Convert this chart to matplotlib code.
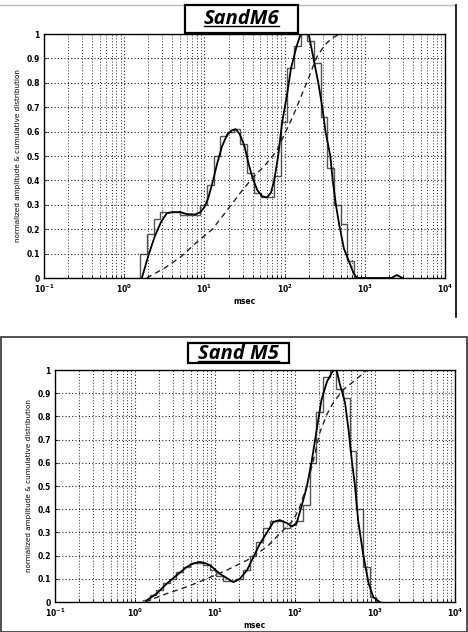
import numpy as np
import matplotlib
matplotlib.use("Agg")
import matplotlib.pyplot as plt
from matplotlib.patches import Rectangle
from matplotlib.lines import Line2D
from matplotlib.ticker import LogLocator, NullFormatter

# ---- SandM6 (upper panel) ----
# smooth amplitude curve, x given as log10(msec)
m6_curve_log = [0.22, 0.30, 0.38, 0.46, 0.53, 0.60, 0.70, 0.78, 0.88, 0.95, 1.00, 1.05,
                1.10, 1.16, 1.22, 1.28, 1.34, 1.39, 1.44, 1.50, 1.55, 1.60, 1.66, 1.72,
                1.78, 1.83, 1.87, 1.92, 1.97, 2.03, 2.08, 2.15, 2.20, 2.30, 2.36, 2.42,
                2.47, 2.51, 2.57, 2.60, 2.64, 2.68, 2.74, 2.80, 2.86, 2.90,
                3.33, 3.40, 3.47]
m6_curve_amp = [0.0, 0.09, 0.17, 0.23, 0.265, 0.27, 0.27, 0.262, 0.26, 0.27, 0.29, 0.33,
                0.39, 0.47, 0.54, 0.585, 0.605, 0.61, 0.59, 0.54, 0.47, 0.41, 0.36, 0.335,
                0.33, 0.35, 0.40, 0.50, 0.64, 0.75, 0.86, 0.95, 1.0, 1.0, 0.90, 0.80,
                0.70, 0.60, 0.50, 0.40, 0.30, 0.22, 0.12, 0.07, 0.02, 0.0,
                0.0, 0.012, 0.0]
# histogram, 12 bins per decade starting at log10 = 0.2
m6_hist_start = 0.2
m6_hist_amp = [0.10, 0.18, 0.24, 0.27, 0.27, 0.27, 0.26, 0.26, 0.26, 0.30, 0.38, 0.50,
               0.58, 0.60, 0.61, 0.55, 0.43, 0.35, 0.33, 0.33, 0.42, 0.64, 0.86, 0.95,
               1.00, 0.97, 0.88, 0.66, 0.45, 0.30, 0.22, 0.07, 0.0]
# cumulative distribution (dashed)
m6_cum_log = [0.28, 0.5, 0.7, 0.9, 1.1, 1.3, 1.45, 1.6, 1.75, 1.9, 2.0, 2.1, 2.2,
              2.3, 2.4, 2.5, 2.6, 2.69]
m6_cum_val = [0.0, 0.04, 0.085, 0.145, 0.2, 0.285, 0.35, 0.41, 0.46, 0.52, 0.59,
              0.66, 0.74, 0.82, 0.905, 0.955, 0.985, 1.0]

# ---- Sand M5 (lower panel) ----
m5_curve_log = [0.146, 0.27, 0.396, 0.52, 0.646, 0.73, 0.81, 0.87, 0.94, 1.06, 1.19,
                1.23, 1.31, 1.40, 1.48, 1.56, 1.65, 1.73, 1.81, 1.90, 1.96, 2.02, 2.08,
                2.15, 2.21, 2.27, 2.33, 2.40, 2.48, 2.52, 2.56, 2.625, 2.67, 2.71, 2.75,
                2.79, 2.85, 2.92, 2.98, 3.06]
m5_curve_amp = [0.007, 0.036, 0.079, 0.115, 0.151, 0.166, 0.173, 0.168, 0.158, 0.122,
                0.094, 0.086, 0.10, 0.137, 0.194, 0.25, 0.30, 0.345, 0.353, 0.34, 0.325,
                0.34, 0.41, 0.50, 0.61, 0.74, 0.87, 0.95, 1.0, 1.0, 0.94, 0.86, 0.74,
                0.61, 0.50, 0.35, 0.21, 0.08, 0.02, 0.0]
m5_hist_start = 0.1
m5_hist_amp = [0.01, 0.03, 0.05, 0.08, 0.10, 0.13, 0.15, 0.17, 0.17, 0.16, 0.14, 0.11,
               0.09, 0.09, 0.10, 0.14, 0.20, 0.26, 0.32, 0.35, 0.35, 0.32, 0.33, 0.35,
               0.42, 0.60, 0.82, 0.97, 1.00, 0.92, 0.88, 0.65, 0.40, 0.15, 0.02, 0.0]
m5_cum_log = [0.125, 0.396, 0.646, 0.896, 1.146, 1.40, 1.646, 1.854, 1.98, 2.06, 2.146,
              2.23, 2.31, 2.40, 2.48, 2.60, 2.73, 2.90]
m5_cum_val = [0.0, 0.036, 0.065, 0.10, 0.137, 0.18, 0.237, 0.31, 0.353, 0.41, 0.50,
              0.61, 0.73, 0.81, 0.86, 0.914, 0.95, 1.0]

y_ticks = [0, 0.1, 0.2, 0.3, 0.4, 0.5, 0.6, 0.7, 0.8, 0.9, 1]
y_labels = ['0', '0.1', '0.2', '0.3', '0.4', '0.5', '0.6', '0.7', '0.8', '0.9', '1']

W, H = 468, 632
fig = plt.figure(figsize=(W / 100, H / 100), dpi=100)
fig.patch.set_facecolor('white')

def px(x0, y0, x1, y1):
    # pixel box (top-left origin) -> figure fraction rect
    return [x0 / W, 1 - y1 / H, (x1 - x0) / W, (y1 - y0) / H]

def panel(rect, curve_log, curve_amp, hist_start, hist_amp, cum_log, cum_val):
    ax = fig.add_axes(rect)
    ax.set_xscale('log')
    edges = 10 ** (hist_start + np.arange(len(hist_amp) + 1) / 12.0)
    ax.stairs(hist_amp, edges, color='#555555', lw=1.0)
    ax.plot(10 ** np.array(curve_log), curve_amp, color='black', lw=1.3)
    ax.plot(10 ** np.array(cum_log), cum_val, color='#222222', lw=1.0,
            ls=(0, (4, 3)))
    ax.set_xlim(0.1, 1e4)
    ax.set_ylim(0, 1)
    ax.set_yticks(y_ticks)
    ax.set_yticklabels(y_labels)
    ax.xaxis.set_minor_locator(LogLocator(base=10, subs=np.arange(2, 10)))
    ax.xaxis.set_minor_formatter(NullFormatter())
    ax.grid(True, which='major', ls=(0, (1, 2)), color='#222222', lw=0.8)
    ax.grid(True, which='minor', axis='x', ls=(0, (1, 2)), color='#333333', lw=0.7)
    ax.tick_params(which='both', direction='in', length=2, width=0.6,
                   labelsize=5.5, pad=3)
    for lab in ax.get_xticklabels() + ax.get_yticklabels():
        lab.set_fontweight('bold')
    for sp in ax.spines.values():
        sp.set_linewidth(1.0)
    ax.set_xlabel('msec', fontsize=5.5, fontweight='bold', labelpad=1.5)
    ax.set_ylabel('normalized amplitude & cumulative distribution', fontsize=5.2,
                  family=['Liberation Sans Narrow', 'DejaVu Sans'], labelpad=4)
    return ax

ax1 = panel(px(44, 34, 445, 278), m6_curve_log, m6_curve_amp, m6_hist_start,
            m6_hist_amp, m6_cum_log, m6_cum_val)
ax2 = panel(px(55, 370, 455, 602), m5_curve_log, m5_curve_amp, m5_hist_start,
            m5_hist_amp, m5_cum_log, m5_cum_val)

# frame lines of the scanned figure
fig.add_artist(Line2D([0, 456 / W], [1 - 5 / H, 1 - 5 / H], color='#bbbbbb', lw=1.0))
fig.add_artist(Line2D([456 / W, 456 / W], [1 - 5 / H, 1 - 317 / H], color='black', lw=1.2))
fig.add_artist(Rectangle((1 / W, 0), 466 / W, (H - 337) / H, transform=fig.transFigure,
                         fill=False, edgecolor='#333333', lw=1.2))

# title boxes
titles = [('SandM6', (185, 5, 298, 33), 24), ('Sand M5', (188, 343, 289, 363), 359)]
txts = []
for label, (x0, y0, x1, y1), base in titles:
    r = px(x0, y0, x1, y1)
    fig.add_artist(Rectangle((r[0], r[1]), r[2], r[3], transform=fig.transFigure,
                             facecolor='white', edgecolor='black', lw=1.6, zorder=5))
    t = fig.text((x0 + x1) / 2 / W, 1 - base / H, label, ha='center', va='baseline',
                 fontsize=14.5, fontweight='bold', style='italic',
                 family=['Open Sans', 'DejaVu Sans'], zorder=6)
    txts.append((t, base))

fig.canvas.draw()
for t, base in txts:
    bb = t.get_window_extent().transformed(fig.transFigure.inverted())
    yy = 1 - (base + 1.8) / H
    fig.add_artist(Line2D([bb.x0, bb.x1], [yy, yy], color='black', lw=1.0, zorder=7))

fig.savefig('out.png', dpi=100)
